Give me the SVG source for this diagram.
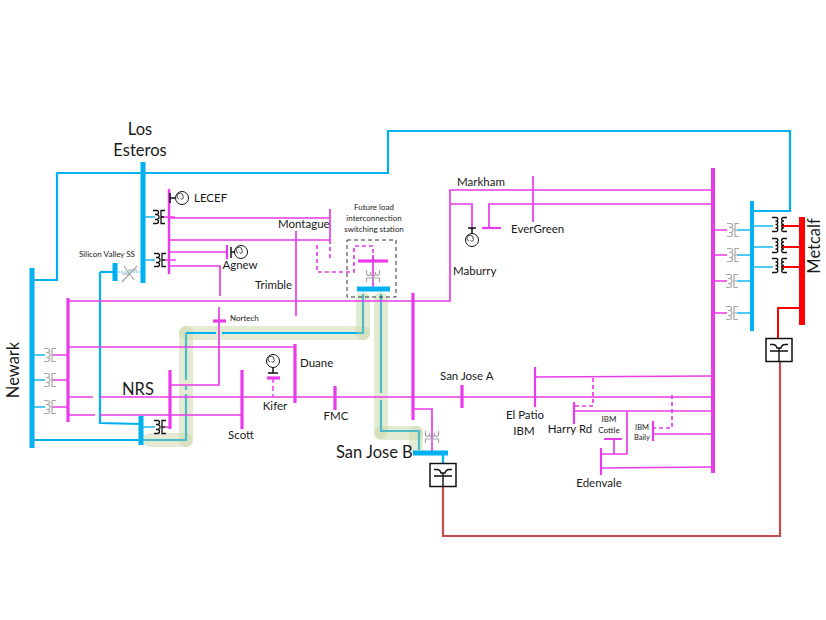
<svg xmlns="http://www.w3.org/2000/svg" width="826" height="620" viewBox="0 0 826 620">
<style>
text{font-family:"Lato","Open Sans","Liberation Sans",sans-serif;fill:#1a1a1a;font-size:10.5px}
.c{text-anchor:middle}
.big{font-size:16.5px}
.mid{font-size:11.5px}
.sm{font-size:8px}
.hl{fill:none;stroke:#c9d8a8;stroke-opacity:.5;stroke-width:14;stroke-linecap:round;stroke-linejoin:round}
.b,.m,.r,.k,.g,.br{fill:none}
.b{stroke:#00b0f0;stroke-width:2.200}
.bt{stroke:#4dbcc8;stroke-width:2.200;fill:none}
.bb{stroke:#00b0f0;stroke-width:5;fill:none}
.bl{stroke:#4fc8f4;stroke-width:1.800;fill:none}
.m{stroke:#e93be9;stroke-width:1.700}
.mb{stroke:#e93be9;stroke-width:3.200;fill:none}
.d{stroke:#e93be9;stroke-width:1.700;fill:none;stroke-dasharray:4 3}
.r{stroke:#ff0000;stroke-width:2}
.br{stroke:#c0504d;stroke-width:2.200}
.k{stroke:#111;stroke-width:1.300}
.g{stroke:#a6a6a6;stroke-width:1.200}
</style>
<defs>
<path id="xf" d="M-6,-6.500H-2.500A2,2 0 0 1 -2.500,-2.500H-4H-2.500A2.500,2.500 0 0 1 -2.500,2.500H-4H-2.500A2,2 0 0 1 -2.500,6.500H-6M6,-6.500H2V6.500H6M2,0H5"/>
<path id="coil" d="M-8,-8.500h4.500a1.800,1.800 0 0 1 0,3.500h-1h1a1.800,1.800 0 0 1 0,3.500h-1h1a1.800,1.800 0 0 1 0,3.500h-1h1a1.800,1.800 0 0 1 0,3.500h-4.500M7,-8.500h-4a1.800,1.800 0 0 0 0,3.500h1h-1a1.800,1.800 0 0 0 0,3.500h1h-1a1.800,1.800 0 0 0 0,3.500h1h-1a1.800,1.800 0 0 0 0,3.500h4"/>
<g id="gen"><circle r="6.500" fill="#fff" stroke="#111" stroke-width="1"/><path d="M-1.500,0.500A1.500,1.500 0 1 0 1,-1.500A3,3 0 1 0 -3,1" fill="none" stroke="#111" stroke-width=".8"/></g>
<g id="box"><rect x="-13" y="-11.500" width="26" height="23" fill="#fff" stroke="#111" stroke-width="1.500"/><path d="M-9,-5.500H-6Q-3,-5.500 -2,-2H2Q3,-5.500 6,-5.500H9M-9,1H9M0,-2V11" fill="none" stroke="#111" stroke-width="1.400"/></g>
</defs>

<g id="highlight">
<path class="hl" d="M186,333H363"/>
<path class="hl" d="M186,333V440"/>
<path class="hl" d="M150,440H186"/>
<path class="hl" d="M363,333V299"/>
<path class="hl" d="M381,299V432"/>
<path class="hl" d="M381,433H416"/>
<path class="hl" d="M416,433V447"/>
</g>

<g id="connectors">
<path class="b" d="M32,280H57V173H388V131H790V211H752"/>
<path class="b" d="M100,272V423L141,424"/>
<path class="b" d="M100,272H115"/>
<path class="b" d="M32,440H141"/>
<path class="bt" d="M141,440H186V394M186,390V386M186,380V333"/>
<path class="b" d="M186,333H216M222,333H357"/>
<path class="bt" d="M357,333H363V294"/>
<path class="bt" d="M381,294V393M381,400V431H419V450"/>
<path class="b" d="M443,454V464"/>
<path class="bl" d="M143,217H155M143,260H155M141,427H155"/>
<path class="bl" d="M32,355H45M32,380H45M32,407H45"/>
<path class="bl" d="M737,230H752M737,255H752M737,281H752M737,313H752"/>
<path class="bl" d="M752,226H773M752,247H773M752,267H773"/>
<path d="M115,272H143" stroke="#4fc8f4" stroke-width="1.200" stroke-dasharray="2 1" fill="none"/>

<path class="m" d="M68,301H450V190H713"/>
<path class="m" d="M450,204H472V230"/>
<path class="m" d="M713,204H489V228"/>
<path class="m" d="M533,176V222"/>
<path class="m" d="M68,347H295"/>
<path class="m" d="M68,397H93M100,397H713"/>
<path class="m" d="M68,415H95M100,415H242"/>
<path class="m" d="M219,307V385H170"/>
<path class="m" d="M413,409H432V452"/>
<path class="m" d="M535,377L713,376"/>
<path class="m" d="M574,411H713"/>
<path class="m" d="M627,411V454H601"/>
<path class="m" d="M614,439V454"/>
<path class="m" d="M601,468L713,467"/>
<path class="m" d="M653,434H713"/>
<path class="d" d="M593,378V406H574"/>
<path class="d" d="M672,395V428H653"/>
<path class="m" d="M169,218H330M169,240H330M330,209V240"/>
<path class="d" d="M330,240V261"/>
<path class="d" d="M317,245V272H354V246H373V261"/>
<path class="m" d="M296,231V316"/>
<path class="m" d="M169,252H227"/>
<path class="m" d="M169,266H220V296"/>
<path class="m" d="M373,255V289"/>
<path d="M273,378V397" stroke="#e93be9" stroke-width="1.500" stroke-dasharray="5 3" fill="none"/>
<path class="m" d="M161,217H175M164,260H176M52,355H68M52,380H68M52,407H68M165,427H170"/>
<path class="m" d="M713,230H727M713,255H727M713,281H727M713,313H727"/>
<path class="r" d="M782,226H801M782,247H801M782,267H801M778,339V308H801"/>
<path class="br" d="M443,486V536H780V362"/>
</g>

<g id="buses">
<path class="bb" d="M143,162V283"/>
<path class="bb" d="M32,268V448"/>
<path class="bb" d="M115,263V281"/>
<path class="bb" d="M141,416V445"/>
<path class="bb" d="M357,289H390"/>
<path class="bb" d="M413,453H448"/>
<path class="bb" d="M752,201V331" style="stroke-width:4"/>
<path d="M802,217V325" stroke="#ff0000" stroke-width="6" fill="none"/>
<path class="mb" d="M68,298V422"/>
<path class="mb" d="M713,168V473" style="stroke-width:4"/>
<path class="mb" d="M169,189V274" style="stroke-width:2.500"/>
<path class="mb" d="M170,370V429"/>
<path class="mb" d="M242,370V429"/>
<path class="mb" d="M295,344V403"/>
<path class="mb" d="M335,386V410"/>
<path class="mb" d="M413,293V420"/>
<path class="mb" d="M462,385V408"/>
<path class="mb" d="M213,321H226"/>
<path class="mb" d="M358,261H388"/>
<path class="mb" d="M267,378H280"/>
<path class="mb" d="M482,228H501" style="stroke-width:2.200"/>
<path class="m" d="M535,367V407M574,402V424M601,448V475M604,439H622M653,421V441M227,245V259" style="stroke-width:2.200"/>
</g>

<g id="transformers">
<use href="#xf" x="159" y="217" class="k"/>
<use href="#xf" x="160" y="260" class="k"/>
<use href="#xf" x="160" y="427" class="k"/>
<use href="#xf" x="50" y="355" class="g"/>
<use href="#xf" x="50" y="380" class="g"/>
<use href="#xf" x="50" y="407" class="g"/>
<use href="#xf" x="733" y="230" class="g"/>
<use href="#xf" x="733" y="255" class="g"/>
<use href="#xf" x="732" y="281" class="g"/>
<use href="#xf" x="732" y="313" class="g"/>
<use href="#xf" transform="translate(373,276) rotate(90)" class="g"/>
<use href="#xf" transform="translate(432,437) rotate(90)" class="g"/>
<use href="#coil" x="780" y="226" class="k"/>
<use href="#coil" x="780" y="247" class="k"/>
<use href="#coil" x="780" y="267" class="k"/>
<path class="g" d="M122,274H130M128,270H137M122,282L137,266M124,266L134,280"/>
</g>

<g id="gens">
<path class="k" d="M170,193V203M170,198H176" style="stroke-width:1.500"/>
<use href="#gen" x="182" y="198"/>
<path class="k" d="M231,247V258M231,252H235" style="stroke-width:1.500"/>
<use href="#gen" x="241" y="252"/>
<path class="k" d="M468,228H476M472,228V234" style="stroke-width:1.500"/>
<use href="#gen" x="472" y="240"/>
<path class="k" d="M268,373H278M273,367V373" style="stroke-width:1.500"/>
<use href="#gen" x="273" y="361"/>
<use href="#box" x="443" y="475"/>
<use href="#box" x="779" y="350"/>
</g>

<rect id="future-box" x="347" y="240" width="49" height="57" fill="none" stroke="#333" stroke-width="1" stroke-dasharray="4 3"/>

<g id="labels">
<text class="c big" x="140" y="135">Los</text>
<text class="c big" x="140" y="156">Esteros</text>
<text x="194" y="202" class="mid">LECEF</text>
<text class="c sm" x="107" y="257">Silicon Valley SS</text>
<text class="mid" x="278" y="228">Montague</text>
<text class="mid c" x="240" y="269">Agnew</text>
<text class="mid" x="255" y="289">Trimble</text>
<text class="c sm" x="374" y="210">Future load</text>
<text class="c sm" x="374" y="221">interconnection</text>
<text class="c sm" x="374" y="232">switching station</text>
<text class="sm" x="230" y="321">Nortech</text>
<text class="mid" x="300" y="367">Duane</text>
<text class="big" x="122" y="395">NRS</text>
<text class="c mid" x="275" y="410">Kifer</text>
<text class="c mid" x="336" y="420">FMC</text>
<text class="c mid" x="241" y="439">Scott</text>
<text class="big" x="336" y="458">San Jose B</text>
<text class="mid" x="457" y="186">Markham</text>
<text class="mid" x="511" y="233">EverGreen</text>
<text class="mid" x="453" y="275">Maburry</text>
<text class="mid" x="440" y="380">San Jose A</text>
<text class="c mid" x="525" y="419">El Patio</text>
<text class="c mid" x="524" y="435">IBM</text>
<text class="c mid" x="570" y="433">Harry Rd</text>
<text class="c sm" x="609" y="422">IBM</text>
<text class="c sm" x="609" y="433">Cottle</text>
<text class="c" style="font-size:7.500px" x="642" y="430">IBM</text>
<text class="c" style="font-size:7.500px" x="642" y="439.500">Baily</text>
<text class="c mid" x="599" y="487">Edenvale</text>
<text class="c big" transform="translate(19,370) rotate(-90)">Newark</text>
<text class="c big" transform="translate(820,246) rotate(-90)" x="0" y="0">Metcalf</text>
</g>
</svg>
